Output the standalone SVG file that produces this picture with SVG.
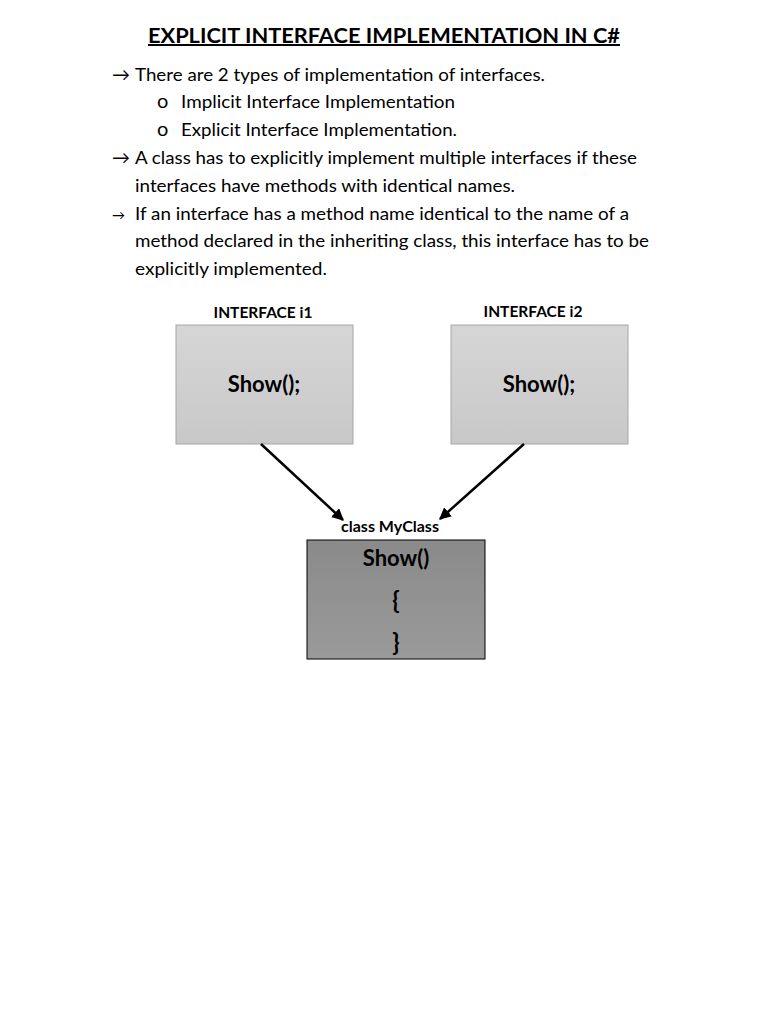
<svg xmlns="http://www.w3.org/2000/svg" width="768" height="1024" viewBox="0 0 768 1024">
<defs>
<linearGradient id="gLight" x1="0" y1="0" x2="0" y2="1">
<stop offset="0" stop-color="#d6d6d6"/>
<stop offset="1" stop-color="#c8c8c8"/>
</linearGradient>
<linearGradient id="gDark" x1="0" y1="0" x2="0" y2="1">
<stop offset="0" stop-color="#8a8a8a"/>
<stop offset="1" stop-color="#9a9a9a"/>
</linearGradient>
<marker id="arr" viewBox="0 0 10 10" refX="9" refY="5" markerWidth="12" markerHeight="12" orient="auto" markerUnits="userSpaceOnUse">
<path d="M0,0 L10,5 L0,10 z" fill="#000"/>
</marker>
</defs>
<style>
text{font-family:Lato,"Liberation Sans",sans-serif;fill:#000}
.body{font-size:18px}
.title{font-size:20px;font-weight:bold;text-decoration:underline}
.lbl{font-size:15.5px;font-weight:bold}
.meth{font-size:22px;font-weight:bold}
.box{fill:url(#gLight);stroke:#a6a6a6;stroke-width:1}
.cls{fill:url(#gDark);stroke:#000;stroke-width:1}
.conn{stroke:#000;stroke-width:2.5;fill:none;marker-end:url(#arr)}
</style>
<rect width="768" height="1024" fill="#fff"/>
<text class="title" x="384" y="43" text-anchor="middle" textLength="472" lengthAdjust="spacingAndGlyphs">EXPLICIT INTERFACE IMPLEMENTATION IN C#</text>
<g id="bullets">
<text class="body" x="112" y="81">→</text>
<text class="body" x="135" y="81" textLength="410" lengthAdjust="spacingAndGlyphs">There are 2 types of implementation of interfaces.</text>
<text class="body" x="157" y="108" style="font-size:20px">o</text>
<text class="body" x="181" y="108" textLength="274" lengthAdjust="spacingAndGlyphs">Implicit Interface Implementation</text>
<text class="body" x="157" y="136" style="font-size:20px">o</text>
<text class="body" x="181" y="136" textLength="276" lengthAdjust="spacingAndGlyphs">Explicit Interface Implementation.</text>
<text class="body" x="112" y="164">→</text>
<text class="body" x="135" y="164" textLength="502" lengthAdjust="spacingAndGlyphs">A class has to explicitly implement multiple interfaces if these</text>
<text class="body" x="135" y="192" textLength="380" lengthAdjust="spacingAndGlyphs">interfaces have methods with identical names.</text>
<text class="body" x="112" y="220" style="font-size:13px">→</text>
<text class="body" x="135" y="220" textLength="494" lengthAdjust="spacingAndGlyphs">If an interface has a method name identical to the name of a</text>
<text class="body" x="135" y="247" textLength="514" lengthAdjust="spacingAndGlyphs">method declared in the inheriting class, this interface has to be</text>
<text class="body" x="135" y="275" textLength="192" lengthAdjust="spacingAndGlyphs">explicitly implemented.</text>
</g>
<g id="i1">
<text class="lbl" x="263" y="318" text-anchor="middle">INTERFACE i1</text>
<rect class="box" x="176" y="325" width="177" height="119"/>
<text class="meth" x="264" y="392" text-anchor="middle">Show();</text>
</g>
<g id="i2">
<text class="lbl" x="533" y="317" text-anchor="middle">INTERFACE i2</text>
<rect class="box" x="451" y="325" width="177" height="119"/>
<text class="meth" x="539" y="392" text-anchor="middle">Show();</text>
</g>
<g id="myclass">
<text class="lbl" x="390" y="532" text-anchor="middle" style="font-size:16px">class MyClass</text>
<rect class="cls" x="307" y="540" width="178" height="119"/>
<text class="meth" x="396" y="566" text-anchor="middle">Show()</text>
<text class="meth" x="396" y="609" text-anchor="middle" style="font-size:24px">{</text>
<text class="meth" x="396" y="651" text-anchor="middle" style="font-size:24px">}</text>
</g>
<g id="connectors">
<line class="conn" x1="261" y1="444" x2="343" y2="520"/>
<line class="conn" x1="524" y1="444" x2="440" y2="519"/>
</g>
</svg>
